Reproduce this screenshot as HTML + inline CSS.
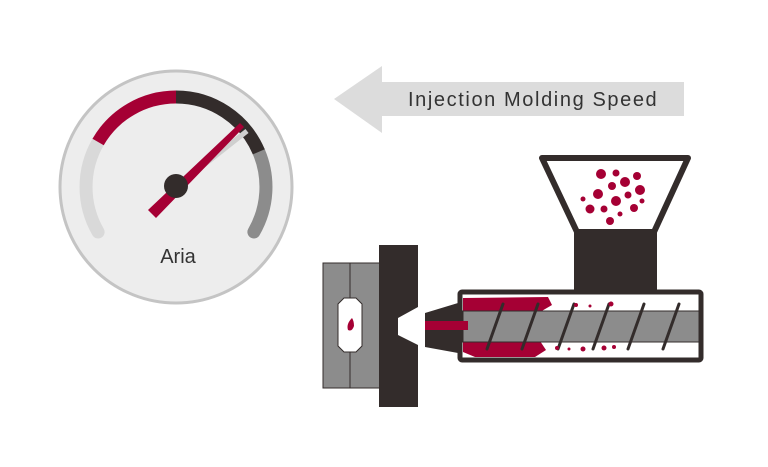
<!DOCTYPE html>
<html><head><style>
html,body{margin:0;padding:0;background:#fff;}
svg{display:block;}
</style></head><body>
<svg width="768" height="467" viewBox="0 0 768 467" xmlns="http://www.w3.org/2000/svg">
<!-- gauge -->
<circle cx="176" cy="187" r="116" fill="#ededed" stroke="#c4c4c4" stroke-width="3"/>
<path d="M98.1 232 A90 90 0 0 1 98.1 142" fill="none" stroke="#d9d9d9" stroke-width="13" stroke-linecap="round"/>
<path d="M258.8 151.8 A90 90 0 0 1 253.9 232" fill="none" stroke="#8c8c8c" stroke-width="13" stroke-linecap="round"/>
<path d="M98.1 142 A90 90 0 0 1 176 97" fill="none" stroke="#a50034" stroke-width="13"/>
<path d="M176 97 A90 90 0 0 1 258.8 151.8" fill="none" stroke="#332c2b" stroke-width="13"/>
<line x1="176" y1="187" x2="247" y2="131" stroke="#cfcfcf" stroke-width="5"/>
<polygon points="148,210 156,218 244,127 240,123" fill="#a50034"/>
<circle cx="176" cy="186" r="12" fill="#332c2b"/>
<text x="178" y="263" text-anchor="middle" font-family="Liberation Sans, sans-serif" font-size="20" fill="#333">Aria</text>
<!-- arrow -->
<polygon points="334,99 382,66 382,82 684,82 684,116 382,116 382,133" fill="#dcdcdc"/>
<text x="408" y="106" font-family="Liberation Sans, sans-serif" font-size="20" letter-spacing="1.6" fill="#333">Injection Molding Speed</text>
<!-- hopper -->
<polygon points="542,158 688,158 654,232 577,232" fill="#fff" stroke="#332c2b" stroke-width="6" stroke-linejoin="round"/>
<rect x="574" y="232" width="83" height="60" fill="#332c2b"/>
<g fill="#a50034">
<circle cx="601" cy="174" r="5"/><circle cx="616" cy="173" r="3.5"/><circle cx="637" cy="176" r="4"/>
<circle cx="612" cy="186" r="4"/><circle cx="625" cy="182" r="5"/><circle cx="640" cy="190" r="5"/>
<circle cx="598" cy="194" r="5"/><circle cx="628" cy="195" r="3.5"/><circle cx="616" cy="201" r="5"/>
<circle cx="583" cy="199" r="2.5"/><circle cx="642" cy="201" r="2.5"/><circle cx="590" cy="209" r="4.5"/>
<circle cx="604" cy="209" r="3.5"/><circle cx="620" cy="214" r="2.5"/><circle cx="634" cy="208" r="4"/>
<circle cx="610" cy="221" r="4"/>
</g>
<!-- mold -->
<rect x="323" y="263" width="57" height="125" fill="#8c8c8c" stroke="#332c2b" stroke-width="1"/>
<line x1="350" y1="263" x2="350" y2="388" stroke="#332c2b" stroke-width="1"/>
<polygon points="344,298 356,298 362,304 362,346 356,352 344,352 338,346 338,304" fill="#fff" stroke="#332c2b" stroke-width="1"/>
<path d="M352 318 q-6 6 -4 12 q4 2 6 -4 q0 -5 -2 -8z" fill="#a50034"/>
<polygon points="379,245 418,245 418,307 398,318 398,335 418,345 418,407 379,407" fill="#332c2b"/>
<!-- nozzle -->
<polygon points="425,313 458,303 458,353 425,347" fill="#332c2b"/>
<!-- barrel -->
<rect x="460" y="292" width="241" height="68" fill="#fff" stroke="#332c2b" stroke-width="5" rx="2"/>
<path d="M463 298 L548 297 L552 305 L540 312 L463 312Z" fill="#a50034"/>
<path d="M463 341 L540 341 L546 350 L535 357 L475 357 L463 352Z" fill="#a50034"/>
<rect x="463" y="311" width="236" height="31" fill="#8c8c8c" stroke="#332c2b" stroke-width="1"/>
<rect x="425" y="321" width="43" height="9" fill="#a50034"/>
<g stroke="#332c2b" stroke-width="3" stroke-linecap="round">
<line x1="487" y1="349" x2="503" y2="304"/><line x1="522" y1="349" x2="538" y2="304"/>
<line x1="558" y1="349" x2="574" y2="304"/><line x1="593" y1="349" x2="609" y2="304"/>
<line x1="628" y1="349" x2="644" y2="304"/><line x1="663" y1="349" x2="679" y2="304"/>
</g>
<g fill="#a50034">
<circle cx="576" cy="305" r="2"/><circle cx="590" cy="306" r="1.5"/><circle cx="611" cy="304" r="2.5"/>
<circle cx="557" cy="348" r="2"/><circle cx="569" cy="349" r="1.5"/><circle cx="583" cy="349" r="2.5"/>
<circle cx="604" cy="348" r="2.5"/><circle cx="614" cy="347" r="2"/>
</g>
</svg>
</body></html>
